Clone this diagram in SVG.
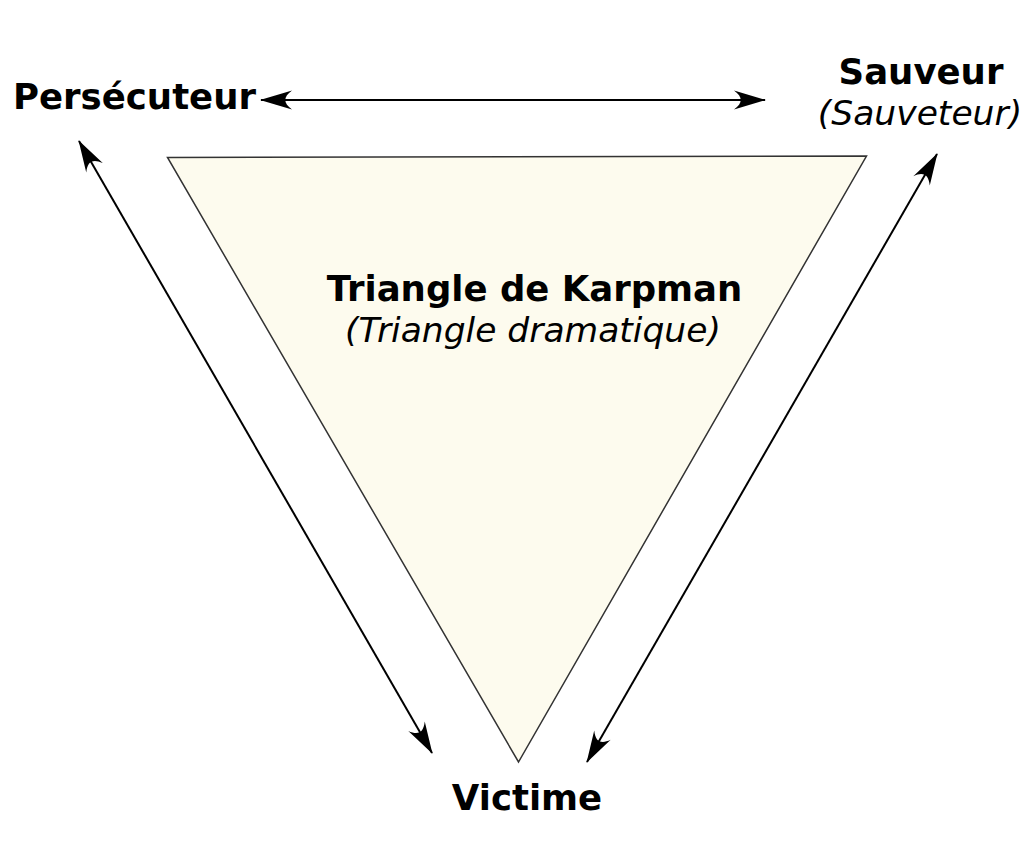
<svg xmlns="http://www.w3.org/2000/svg" width="1024" height="864" viewBox="0 0 1024 864">
  <style>
    text { font-family: "DejaVu Sans", "Liberation Sans", sans-serif; fill: #000; }
    .b { font-weight: bold; font-size: 35.5px; }
    .i { font-style: italic; font-size: 34.5px; }
    .conn { stroke: #000; stroke-width: 2; fill: none; marker-start: url(#ah); marker-end: url(#ah); }
  </style>
  <defs>
    <marker id="ah" markerUnits="userSpaceOnUse" viewBox="-34 -12 36 24" refX="0" refY="0" markerWidth="36" markerHeight="24" orient="auto-start-reverse" overflow="visible">
      <path d="M1,0 L-31,-9.5 C-22,-3 -22,3 -31,9.5 Z" fill="#000"/>
    </marker>
  </defs>
  <rect width="1024" height="864" fill="#fff"/>
  <g id="triangle">
    <path d="M167.5,157.5 L866.5,156 L518.5,762 Z" fill="#fdfbee" stroke="#333" stroke-width="1.5" stroke-linejoin="miter"/>
    <text class="b" x="534.5" y="301" text-anchor="middle">Triangle de Karpman</text>
    <text class="i" x="533" y="342" text-anchor="middle">(Triangle dramatique)</text>
  </g>
  <g id="persecuteur">
    <text class="b" x="13" y="109">Persécuteur</text>
  </g>
  <g id="sauveur">
    <text class="b" x="921" y="84" text-anchor="middle">Sauveur</text>
    <text class="i" x="920" y="125" text-anchor="middle">(Sauveteur)</text>
  </g>
  <g id="victime">
    <text class="b" x="527" y="810" text-anchor="middle">Victime</text>
  </g>
  <g id="connectors">
    <path class="conn" d="M261,100 L765,100"/>
    <path class="conn" d="M79,141 L432,753"/>
    <path class="conn" d="M937,154 L587,762"/>
  </g>
</svg>
